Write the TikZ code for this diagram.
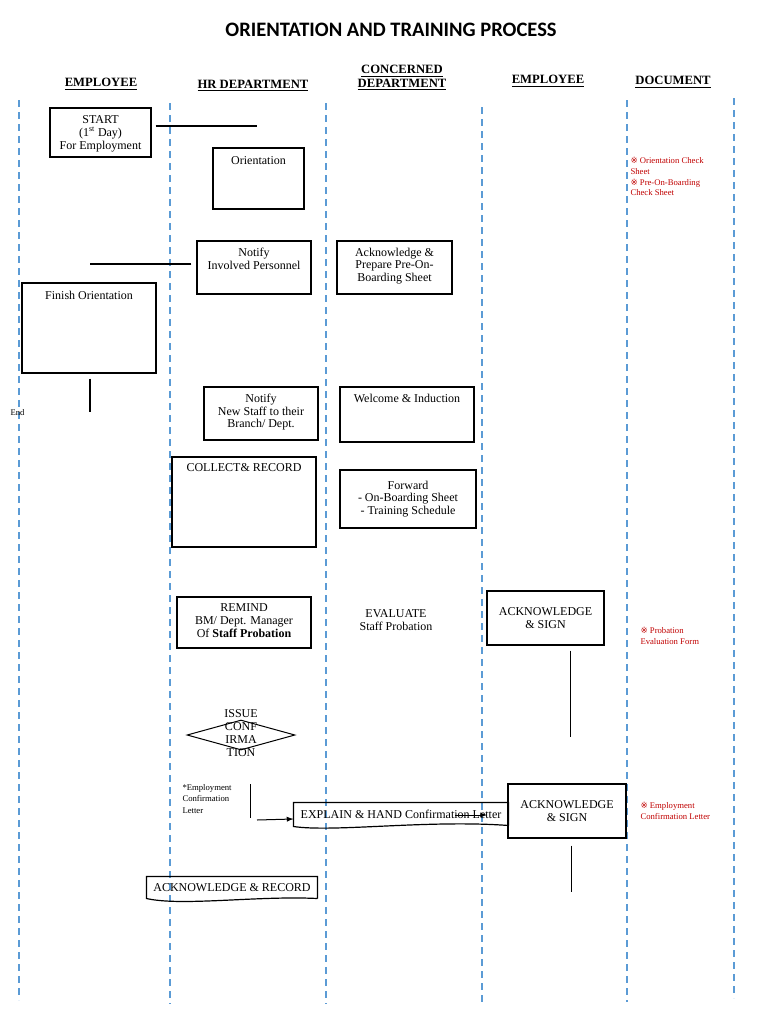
\documentclass[tikz,border=0pt]{standalone}
\usepackage{fontspec}
\setmainfont{Liberation Serif}
\newfontfamily\titlefont{Carlito}
\newfontfamily\symfont{DejaVu Sans}
\usetikzlibrary{shapes.geometric,calc}

\definecolor{laneblue}{RGB}{91,155,213}
\definecolor{docred}{RGB}{192,0,0}
\newcommand{\refmark}{{\symfont\char"203B}}

\tikzset{every picture/.style={line width=0.75pt}}
\tikzset{
  box/.style 2 args={draw, rectangle, line width=0.9pt, inner sep=0pt, minimum width=#1*0.75pt, minimum height=#2*0.75pt, align=center, font=\fontsize{9}{9.5}\selectfont},
  boxtext/.style={anchor=north, inner sep=0.75pt, align=center, font=\fontsize{9}{9.5}\selectfont},
  lane/.style={color=laneblue, line width=0.8pt, dash pattern=on 5pt off 4pt},
  header/.style={inner sep=0.75pt, align=center, font=\fontsize{9.5}{10.5}\selectfont\bfseries},
  note/.style={anchor=north west, inner sep=0.75pt, align=left, text=docred, font=\fontsize{6.5}{8}\selectfont},
}

\begin{document}
\begin{tikzpicture}[x=0.75pt,y=0.75pt,yscale=-1,xscale=1]
\useasboundingbox (0,0) rectangle (768,1024);

%Lanes
\foreach \x/\top/\bot in {19/100/1000, 170/103/1004, 326/103/1004, 482/107/1002, 627/100/1002, 734/98/998}
  \draw [lane] (\x,\top) -- (\x,\bot);

% Title
\node (title) at (391,30) [font=\titlefont\fontsize{15.4}{17}\selectfont\bfseries] {ORIENTATION AND TRAINING PROCESS};

% Headers
\node [header] (hemp) at (101,84) {\underline{EMPLOYEE}};
\node [header] (hhr) at (253,86) {\underline{HR DEPARTMENT}};
\node [header] (hcon) at (402,78) {\underline{CONCERNED}\\\underline{DEPARTMENT}};
\node [header] (hemp2) at (548,81) {\underline{EMPLOYEE}};
\node [header] (hdoc) at (673,82) {\underline{DOCUMENT}};

%Boxes
\node [box={101}{49}] (start) at (100.5,132.5) {};
\node [boxtext] (startT) at ($(start.north)+(0,7)$) {START\\(1\textsuperscript{st} Day)\\For Employment};
\node [box={91}{61}] (orient) at (258.5,178.5) {};
\node [boxtext] (orientT) at ($(orient.north)+(0,8)$) {Orientation};
\node [box={114}{53}] (notify) at (254,267.5) {};
\node [boxtext] (notifyT) at ($(notify.north)+(0,6)$) {Notify\\Involved Personnel};
\node [box={115}{53}] (prep) at (394.5,267.5) {};
\node [boxtext] (prepT) at ($(prep.north)+(0,6)$) {Acknowledge \&\\Prepare Pre-On-\\Boarding Sheet};
\node [box={134}{90}] (finish) at (89,328) {};
\node [boxtext] (finishT) at ($(finish.north)+(0,7)$) {Finish Orientation};
\node [box={114}{53}] (newstaff) at (261,413.5) {};
\node [boxtext] (newstaffT) at ($(newstaff.north)+(0,6)$) {Notify\\New Staff to their\\Branch/ Dept.};
\node [box={134}{55}] (welcome) at (407,414.5) {};
\node [boxtext] (welcomeT) at ($(welcome.north)+(0,6)$) {Welcome \& Induction};
\node [box={144}{90}] (collect) at (244,502) {};
\node [boxtext] (collectT) at ($(collect.north)+(0,6)$) {COLLECT\& RECORD};
\node [box={136}{58}] (forward) at (408,499) {Forward\\- On-Boarding Sheet\\- Training Schedule};
\node [box={134}{51}] (remind) at (244,622.5) {};
\node [boxtext] (remindT) at ($(remind.north)+(0,6)$) {REMIND\\BM/ Dept. Manager\\Of \textbf{Staff Probation}};
\node [boxtext, anchor=center] (evaluate) at (396,620) {EVALUATE\\Staff Probation};
\node [box={117}{54}] (signA) at (545.5,618) {ACKNOWLEDGE\\\& SIGN};
\node [box={118}{54}] (signB) at (567,811) {ACKNOWLEDGE\\\& SIGN};

%Decision
\node [draw, diamond, inner sep=0pt, minimum width=108*0.75pt, minimum height=30*0.75pt] (issue) at (241,735) {};
\node [boxtext, anchor=center, font=\fontsize{9}{9.6}\selectfont] (issueT) at (241,733) {ISSUE\\CONF\\IRMA\\TION};

%Document shapes
\node [inner sep=0pt, minimum width=214*0.75pt, minimum height=22*0.75pt, font=\fontsize{9}{9.5}\selectfont] (explain) at (401,814) {EXPLAIN \& HAND Confirmation Letter};
\draw [line width=0.9pt] (explain.south east) -- (explain.north east) -- (explain.north west) -- ($(explain.south west)+(0,1)$) .. controls +(40,6) and +(-80,-6) .. (explain.south east) ;
\node [inner sep=0pt, minimum width=170*0.75pt, minimum height=21*0.75pt, font=\fontsize{9}{9.5}\selectfont] (ackrec) at (232,887.5) {ACKNOWLEDGE \& RECORD};
\draw [line width=0.9pt] (ackrec.south east) -- (ackrec.north east) -- (ackrec.north west) -- (ackrec.south west) .. controls +(35,8) and +(-60,-3) .. (ackrec.south east) ;

%Straight Lines
\coordinate (startEnd) at (257,126);
\draw [line width=0.9pt] ($(start.east)+(4,-6.5)$) -- (startEnd);
\coordinate (notifyEnd) at (90,264);
\draw [line width=0.9pt] ($(notify.west)+(-5,-3.5)$) -- (notifyEnd);
\coordinate (endMark) at (90,412);
\draw [line width=1.8pt] ($(finish.south)+(1,5)$) -- (endMark);
\coordinate (signAEnd) at (570,737);
\draw ($(signA.south)+(24.5,5)$) -- (signAEnd);
\coordinate (signBEnd) at (571,892);
\draw ($(signB.south)+(4,7)$) -- (signBEnd);

% Text Node
\node [anchor=north west, inner sep=0.75pt, font=\fontsize{6.5}{7}\selectfont] (endT) at (9,408) {End};
\node [anchor=north west, inner sep=0.75pt, align=left, font=\fontsize{6.5}{8.6}\selectfont] (letter) at (181,783) {*Employment\\Confirmation\\Letter};

%Letter handover
\coordinate (letterTop) at (250,784);
\coordinate (letterBot) at (250,818);
\draw (letterTop) -- (letterBot);
\coordinate (handFrom) at (257,820);
\draw [-latex] (handFrom) -- ($(explain.west)+(0,5)$);
\coordinate (strikeFrom) at (455,815);
\coordinate (strikeTo) at (487,815);
\draw [-latex] (strikeFrom) -- (strikeTo);

% Documents
\node [note] (docA) at (629,156) {\refmark{} Orientation Check\\Sheet\\\refmark{} Pre-On-Boarding\\Check Sheet};
\node [note] (docB) at (639,626) {\refmark{} Probation\\Evaluation Form};
\node [note] (docC) at (639,801) {\refmark{} Employment\\Confirmation Letter};

\end{tikzpicture}
\end{document}
